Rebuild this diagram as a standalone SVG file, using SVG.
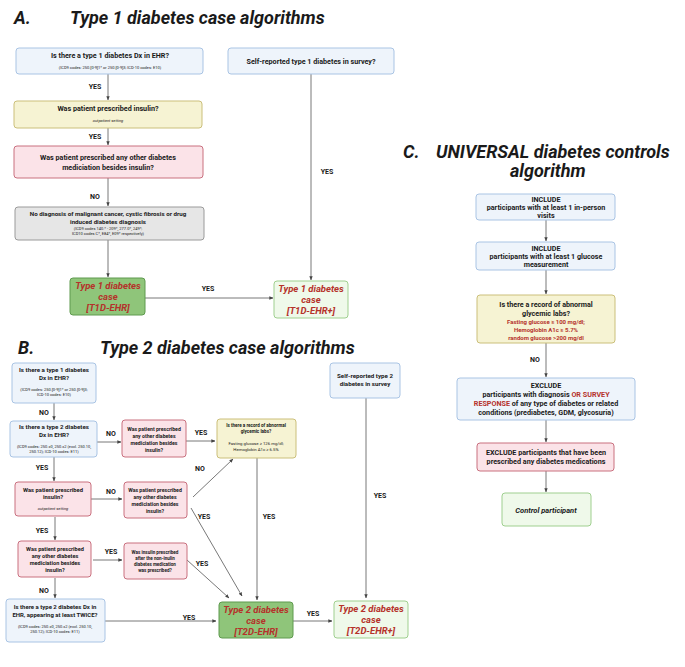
<svg xmlns="http://www.w3.org/2000/svg" width="685" height="667" viewBox="0 0 685 667">
<defs>
<marker id="ah" viewBox="0 0 6 6" refX="5.5" refY="3" markerWidth="5" markerHeight="5" orient="auto"><path d="M0,0.5 L6,3 L0,5.5 z" fill="#444"/></marker>
<style>
text{font-family:Roboto,"Liberation Sans",sans-serif;fill:#1a1a1a;text-anchor:middle}
.b{font-weight:bold}
.t{font-size:7.2px;font-weight:bold}
.s{font-size:4px}
.i{font-style:italic}
.lab{font-size:7px;font-weight:bold}
.title{font-size:18px;font-weight:bold;font-style:italic;text-anchor:start}
.red{fill:#b5322b}
.blue{fill:#eef4fb;stroke:#a9c4e4}
.yel{fill:#f6f3d3;stroke:#cbbf7a}
.pink{fill:#fbe3e8;stroke:#c9707f}
.gray{fill:#e6e6e6;stroke:#9a9a9a}
.dg{fill:#8fc57a;stroke:#5e9a4e}
.lg{fill:#eff9ea;stroke:#9fcf8f}
rect{stroke-width:1}
.c line,.c path{stroke:#555;stroke-width:0.8;fill:none;marker-end:url(#ah)}
.case{font-size:9.5px;font-weight:bold;font-style:italic;fill:#b5322b}
</style>
</defs>
<rect width="685" height="667" fill="#fff"/>
<text class="title" x="14" y="24">A.</text>
<text class="title" x="70" y="24">Type 1 diabetes case algorithms</text>
<text class="title" x="18" y="354">B.</text>
<text class="title" x="100" y="354">Type 2 diabetes case algorithms</text>
<text class="title" x="403" y="158">C.</text>
<text class="title" x="436" y="158">UNIVERSAL diabetes controls</text>
<text class="title" x="510" y="177">algorithm</text>

<g class="c">
<line x1="108" y1="74" x2="108" y2="100"/>
<line x1="108" y1="128" x2="108" y2="145"/>
<line x1="108" y1="178" x2="108" y2="206"/>
<line x1="108" y1="240" x2="108" y2="277"/>
<line x1="311" y1="74" x2="311" y2="280"/>
<line x1="145" y1="298" x2="273" y2="298"/>
<line x1="546" y1="220" x2="546" y2="241"/>
<line x1="546" y1="270" x2="546" y2="294"/>
<line x1="546" y1="343" x2="546" y2="377"/>
<line x1="546" y1="420" x2="546" y2="442"/>
<line x1="546" y1="471" x2="546" y2="492"/>
<line x1="54" y1="403" x2="54" y2="420"/>
<line x1="97" y1="442" x2="121" y2="442"/>
<line x1="186" y1="441" x2="215" y2="441"/>
<line x1="193" y1="497" x2="233" y2="459"/>
<line x1="54" y1="457" x2="54" y2="481"/>
<line x1="91" y1="499" x2="122" y2="499"/>
<line x1="55" y1="517" x2="55" y2="540"/>
<line x1="93" y1="560" x2="122" y2="560"/>
<line x1="191" y1="508" x2="242" y2="596"/>
<line x1="257" y1="458" x2="257" y2="600"/>
<line x1="187" y1="560" x2="229" y2="598"/>
<line x1="55" y1="578" x2="55" y2="598"/>
<line x1="105" y1="621" x2="216" y2="621"/>
<line x1="366" y1="398" x2="366" y2="598"/>
<line x1="293" y1="621" x2="332" y2="621"/>
</g>
<g>
<text class="lab" x="95" y="89">YES</text>
<text class="lab" x="95" y="139">YES</text>
<text class="lab" x="95" y="199">NO</text>
<text class="lab" x="327" y="174">YES</text>
<text class="lab" x="208" y="291">YES</text>
<text class="lab" x="535" y="362">NO</text>
<text class="lab" x="44" y="415">NO</text>
<text class="lab" x="111" y="436">NO</text>
<text class="lab" x="201" y="435">YES</text>
<text class="lab" x="200" y="471">NO</text>
<text class="lab" x="42" y="470">YES</text>
<text class="lab" x="111" y="494">NO</text>
<text class="lab" x="42" y="533">YES</text>
<text class="lab" x="111" y="554">YES</text>
<text class="lab" x="204" y="519">YES</text>
<text class="lab" x="269" y="519">YES</text>
<text class="lab" x="202" y="566">YES</text>
<text class="lab" x="44" y="593">NO</text>
<text class="lab" x="189" y="620">YES</text>
<text class="lab" x="380" y="498">YES</text>
<text class="lab" x="313" y="616">YES</text>
</g>

<g id="t1-dx"><rect class="blue" x="16" y="48" width="187" height="26" rx="3"/><text class="t" x="110" y="58">Is there a type 1 diabetes Dx in EHR?</text><text class="s" x="110" y="69">(ICD9 codes: 250.[0-9]1* or 250.[0-9]3; ICD-10 codes: E10)</text></g>
<g id="t1-self"><rect class="blue" x="228" y="48" width="166" height="26" rx="3"/><text class="t" x="311" y="64">Self-reported type 1 diabetes in survey?</text></g>
<g id="t1-insulin"><rect class="yel" x="14" y="101" width="188" height="27" rx="3"/><text class="t" x="108" y="111">Was patient prescribed insulin?</text><text class="s i" x="108" y="122">outpatient setting</text></g>
<g id="t1-other"><rect class="pink" x="14" y="146" width="189" height="32" rx="3"/><text class="t" x="108" y="160">Was patient prescribed any other diabetes</text><text class="t" x="108" y="170">mediciation besides insulin?</text></g>
<g id="t1-excl"><rect class="gray" x="15" y="207" width="189" height="33" rx="3"/><text class="t" x="108" y="216" style="font-size:6.2px">No diagnosis of malignant cancer, cystic fibrosis or drug</text><text class="t" x="108" y="224" style="font-size:6.2px">induced diabetes diagnosis</text><text class="s" x="108" y="230">(ICD9 codes 140.* - 209*, 277.0*, 249*;</text><text class="s" x="108" y="235">ICD10 codes C*, E84*, E09* respectively)</text></g>
<g id="t1-ehr"><rect class="dg" x="70" y="278" width="75" height="37" rx="3"/><text class="case" x="108" y="289">Type 1 diabetes</text><text class="case" x="108" y="300">case</text><text class="case" x="108" y="311">[T1D-EHR]</text></g>
<g id="t1-ehrplus"><rect class="lg" x="274" y="281" width="74" height="37" rx="3"/><text class="case" x="311" y="292">Type 1 diabetes</text><text class="case" x="311" y="303">case</text><text class="case" x="311" y="314">[T1D-EHR+]</text></g>

<g id="c-inc1"><rect class="blue" x="476" y="194" width="139" height="26" rx="3"/><text class="t" x="546" y="202">INCLUDE</text><text class="t" x="546" y="210">participants with at least 1 in-person</text><text class="t" x="546" y="218">visits</text></g>
<g id="c-inc2"><rect class="blue" x="476" y="242" width="139" height="28" rx="3"/><text class="t" x="546" y="251">INCLUDE</text><text class="t" x="546" y="259">participants with at least 1 glucose</text><text class="t" x="546" y="267">measurement</text></g>
<g id="c-labs"><rect class="yel" x="477" y="295" width="138" height="48" rx="3"/><text class="t" x="546" y="307">Is there a record of abnormal</text><text class="t" x="546" y="316">glycemic labs?</text><text class="t red" x="546" y="324" style="font-size:6px">Fasting glucose ≥ 100 mg/dl;</text><text class="t red" x="546" y="332" style="font-size:6px">Hemoglobin A1c ≥ 5.7%</text><text class="t red" x="546" y="340" style="font-size:6px">random glucose &gt;200 mg/dl</text></g>
<g id="c-excl1"><rect class="blue" x="457" y="378" width="178" height="42" rx="3"/><text class="t" x="546" y="388">EXCLUDE</text><text class="t" x="546" y="397">participants with diagnosis <tspan class="red">OR SURVEY</tspan></text><text class="t" x="546" y="406"><tspan class="red">RESPONSE</tspan> of any type of diabetes or related</text><text class="t" x="546" y="415">conditions (prediabetes, GDM, glycosuria)</text></g>
<g id="c-excl2"><rect class="pink" x="477" y="443" width="137" height="28" rx="3"/><text class="t" x="546" y="455">EXCLUDE participants that have been</text><text class="t" x="546" y="464">prescribed any diabetes medications</text></g>
<g id="c-control"><rect class="lg" x="502" y="493" width="89" height="33" rx="3"/><text class="t i" x="546" y="513" style="font-size:7.5px">Control participant</text></g>

<g id="b-t1dx"><rect class="blue" x="12" y="363" width="84" height="40" rx="3"/><text class="t" x="54" y="372" style="font-size:6.2px">Is there a type 1 diabetes</text><text class="t" x="54" y="380" style="font-size:6.2px">Dx in EHR?</text><text class="s" x="54" y="391">(ICD9 codes: 250.[0-9]1* or 250.[0-9]3;</text><text class="s" x="54" y="396">ICD-10 codes: E10)</text></g>
<g id="b-t2dx"><rect class="blue" x="10" y="421" width="87" height="36" rx="3"/><text class="t" x="54" y="429" style="font-size:6.2px">Is there a type 2 diabetes</text><text class="t" x="54" y="437" style="font-size:6.2px">Dx in EHR?</text><text class="s" x="54" y="448">(ICD9 codes: 250.x0, 250.x2 (excl. 250.10,</text><text class="s" x="54" y="453">250.12); ICD-10 codes: E11)</text></g>
<g id="b-other1"><rect class="pink" x="122" y="420" width="64" height="37" rx="3"/><text class="t" x="154" y="431" style="font-size:5.2px">Was patient prescribed</text><text class="t" x="154" y="438" style="font-size:5.2px">any other diabetes</text><text class="t" x="154" y="445" style="font-size:5.2px">mediciation besides</text><text class="t" x="154" y="452" style="font-size:5.2px">insulin?</text></g>
<g id="b-labs"><rect class="yel" x="217" y="419" width="79" height="39" rx="3"/><text class="t" x="256" y="427" style="font-size:4.6px">Is there a record of abnormal</text><text class="t" x="256" y="433" style="font-size:4.6px">glycemic labs?</text><text class="s" x="256" y="445" style="font-size:4.3px">Fasting glucose ≥ 126 mg/dl;</text><text class="s" x="256" y="451" style="font-size:4.3px">Hemoglobin A1c ≥ 6.5%</text></g>
<g id="b-self"><rect class="blue" x="330" y="363" width="70" height="35" rx="3"/><text class="t" x="365" y="378" style="font-size:6.2px">Self-reported type 2</text><text class="t" x="365" y="386" style="font-size:6.2px">diabetes in survey</text></g>
<g id="b-insulin"><rect class="pink" x="15" y="482" width="76" height="34" rx="3"/><text class="t" x="53" y="492" style="font-size:5.8px">Was patient prescribed</text><text class="t" x="53" y="499" style="font-size:5.8px">insulin?</text><text class="s i" x="53" y="510">outpatient setting</text></g>
<g id="b-other2"><rect class="pink" x="124" y="482" width="63" height="36" rx="3"/><text class="t" x="155" y="492" style="font-size:5.2px">Was patient prescribed</text><text class="t" x="155" y="499" style="font-size:5.2px">any other diabetes</text><text class="t" x="155" y="506" style="font-size:5.2px">mediciation besides</text><text class="t" x="155" y="513" style="font-size:5.2px">insulin?</text></g>
<g id="b-other3"><rect class="pink" x="18" y="541" width="73" height="36" rx="3"/><text class="t" x="55" y="551" style="font-size:5.6px">Was patient prescribed</text><text class="t" x="55" y="558" style="font-size:5.6px">any other diabetes</text><text class="t" x="55" y="565" style="font-size:5.6px">mediciation besides</text><text class="t" x="55" y="572" style="font-size:5.6px">insulin?</text></g>
<g id="b-after"><rect class="pink" x="124" y="543" width="63" height="36" rx="3"/><text class="t" x="155" y="554" style="font-size:4.6px">Was insulin prescribed</text><text class="t" x="155" y="560" style="font-size:4.6px">after the non-inulin</text><text class="t" x="155" y="566" style="font-size:4.6px">diabetes medication</text><text class="t" x="155" y="572" style="font-size:4.6px">was prescribed?</text></g>
<g id="b-twice"><rect class="blue" x="6" y="599" width="99" height="43" rx="3"/><text class="t" x="55" y="609" style="font-size:6px">Is there a type 2 diabetes Dx in</text><text class="t" x="55" y="617" style="font-size:6px">EHR, appearing at least TWICE?</text><text class="s" x="55" y="628">(ICD9 codes: 250.x0, 250.x2 (excl. 250.10,</text><text class="s" x="55" y="633">250.12); ICD-10 codes: E11)</text></g>
<g id="b-ehr"><rect class="dg" x="219" y="602" width="74" height="36" rx="3"/><text class="case" x="256" y="613">Type 2 diabetes</text><text class="case" x="256" y="624">case</text><text class="case" x="256" y="635">[T2D-EHR]</text></g>
<g id="b-ehrplus"><rect class="lg" x="334" y="601" width="74" height="37" rx="3"/><text class="case" x="371" y="612">Type 2 diabetes</text><text class="case" x="371" y="623">case</text><text class="case" x="371" y="634">[T2D-EHR+]</text></g>
</svg>
